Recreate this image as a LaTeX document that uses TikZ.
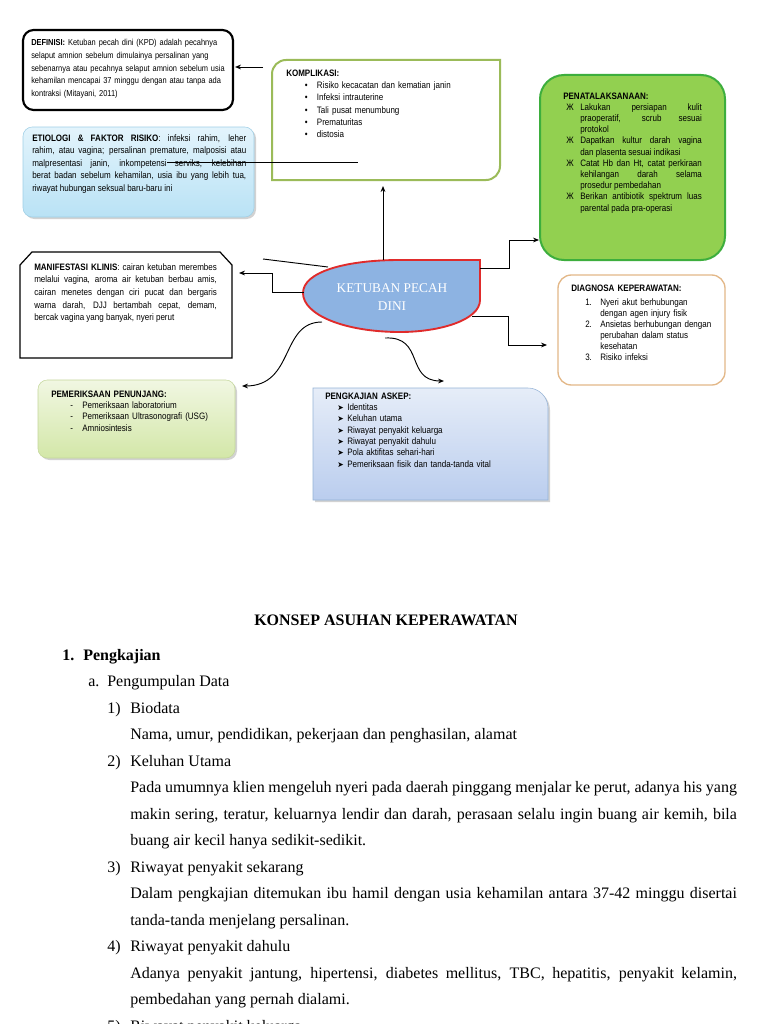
\documentclass[tikz,border=0pt]{standalone}
\usepackage{fontspec}
\setmainfont{Liberation Serif}
\newfontfamily\narrowsans[FakeStretch=0.86, WordSpace={1,1.6,2.6}]{Liberation Sans}
\newfontfamily\symfont{DejaVu Sans}
\usetikzlibrary{arrows.meta,shadows}

\definecolor{kpdblue}{HTML}{8DB3E2}
\definecolor{kpdred}{HTML}{E02B2B}
\definecolor{olivegreen}{HTML}{9BBB59}
\definecolor{leafgreen}{HTML}{92D050}
\definecolor{leafedge}{HTML}{3DAE3D}
\definecolor{tanedge}{HTML}{E3B888}
\definecolor{skytop}{HTML}{E3F4FC}
\definecolor{skybottom}{HTML}{B9E2F5}
\definecolor{skyedge}{HTML}{9FCFE6}
\definecolor{limetop}{HTML}{F1F7E2}
\definecolor{limebottom}{HTML}{D3E7A8}
\definecolor{limeedge}{HTML}{C4D79B}
\definecolor{lavtop}{HTML}{E6EDF8}
\definecolor{lavbottom}{HTML}{BACDEE}
\definecolor{lavedge}{HTML}{95B3D7}

\hyphenpenalty=10000
\exhyphenpenalty=10000

% list entry: label at #1, text at #2 (both from the node's left side)
\newcommand{\listentry}[4]{{\par\leftskip=#2\relax\noindent\hskip\dimexpr#1-#2\relax\hbox to\dimexpr#2-#1\relax{#3\hss}#4\par}}
\newcommand{\arrowmark}{{\symfont\fontsize{5.8}{5}\selectfont ➤}}
% one justified line that never reflows
\newcommand{\fullline}[1]{\hbox to\hsize{#1}}

\begin{document}
\begin{tikzpicture}[x=0.75pt, y=-0.75pt,
  boxtext/.style={anchor=base west, inner sep=0pt, font=\narrowsans\fontsize{7}{9.4}\selectfont},
  bodytext/.style={anchor=base west, inner sep=0pt, font=\fontsize{12}{19.875}\selectfont},
  conn/.style={line width=0.7pt, -{Stealth[length=4.5pt,width=3.6pt]}},
  plainline/.style={line width=0.7pt}]

\path[use as bounding box, fill=white] (0,0) rectangle (768,1024);

% Box outlines
\draw[line width=1.6pt, rounded corners=8pt] (23,30) rectangle (233,110);
\path[draw=skyedge, top color=skytop, bottom color=skybottom, rounded corners=7pt,
  drop shadow={shadow xshift=1.5pt, shadow yshift=-1.5pt, opacity=0.35}] (23,127) rectangle (254,217);
\draw[olivegreen, line width=1.5pt, fill=white] (272,180) -- (272,74) .. controls (272,66.3) and (278.3,60) .. (286,60)
  -- (500,60) -- (500,166) .. controls (500,173.7) and (493.7,180) .. (486,180) -- cycle;
\draw[leafedge, fill=leafgreen, line width=1.5pt, rounded corners=18pt] (540,75) rectangle (725,260);
\draw[line width=0.9pt, fill=white] (20,358) -- (20,265) -- (32,252) -- (220,252) -- (232,265) -- (232,358) -- cycle;
\draw[tanedge, line width=1pt, fill=white, rounded corners=10pt] (558,275) rectangle (725,385);
\path[draw=limeedge, top color=limetop, bottom color=limebottom, rounded corners=7pt,
  drop shadow={shadow xshift=1.5pt, shadow yshift=-1.5pt, opacity=0.35}] (38,380) rectangle (235,458);
\path[draw=lavedge, top color=lavtop, bottom color=lavbottom,
  drop shadow={shadow xshift=1.5pt, shadow yshift=-1.5pt, opacity=0.35}] (313,500) -- (313,388) -- (528,388)
  .. controls (539,388) and (548,397) .. (548,408) -- (548,500) -- cycle;

% Central shape
\draw[kpdred, fill=kpdblue, line width=1.4pt] (480,260) -- (480,300) .. controls (480,320) and (440,332) .. (400,332)
  .. controls (345,332) and (303,315) .. (303,293) .. controls (303,272) and (345,260) .. (400,260) -- cycle;
\node[text=white, align=center, inner sep=0pt, font=\fontsize{10}{14}\selectfont] (kpd) at (392,297) {KETUBAN PECAH\\DINI};

% Box texts
\node[boxtext, text width=142.5pt, font=\narrowsans\fontsize{6.5}{9.4}\selectfont] (definisi) at (31,46) {%
  \fullline{\textbf{DEFINISI:} Ketuban pecah dini (KPD) adalah pecahnya}
  \fullline{selaput amnion sebelum dimulainya persalinan yang}
  \fullline{sebenarnya atau pecahnya selaput amnion sebelum usia}
  \fullline{kehamilan mencapai 37 minggu dengan atau tanpa ada}
  \noindent kontraksi (Mitayani, 2011)};
\node[boxtext, text width=160.5pt, align=justify] (etiologi) at (32,141) {\textbf{ETIOLOGI \& FAKTOR RISIKO}: infeksi rahim, leher\linebreak
  rahim, atau vagina; persalinan premature, malposisi atau\linebreak
  malpresentasi janin, inkompetensi serviks, kelebihan\linebreak
  berat badan sebelum kehamilan, usia ibu yang lebih tua,\linebreak
  riwayat hubungan seksual baru-baru ini};
\node[boxtext, text width=160pt, align=left, font=\narrowsans\fontsize{7}{9.3}\selectfont] (komplikasi) at (286,76) {\textbf{KOMPLIKASI:}
  \listentry{14pt}{23pt}{\textbullet}{Risiko kecacatan dan kematian janin}
  \listentry{14pt}{23pt}{\textbullet}{Infeksi intrauterine}
  \listentry{14pt}{23pt}{\textbullet}{Tali pusat menumbung}
  \listentry{14pt}{23pt}{\textbullet}{Prematuritas}
  \listentry{14pt}{23pt}{\textbullet}{distosia}};
\node[boxtext, text width=104pt, align=justify, font=\narrowsans\fontsize{7}{8.4}\selectfont] (penatalaksanaan) at (563,99) {\textbf{PENATALAKSANAAN:}
  \listentry{2.25pt}{12.75pt}{Ж}{Lakukan persiapan kulit\linebreak praoperatif, scrub sesuai\linebreak protokol}
  \listentry{2.25pt}{12.75pt}{Ж}{Dapatkan kultur darah vagina\linebreak dan plasenta sesuai indikasi}
  \listentry{2.25pt}{12.75pt}{Ж}{Catat Hb dan Ht, catat perkiraan\linebreak kehilangan darah selama\linebreak prosedur pembedahan}
  \listentry{2.25pt}{12.75pt}{Ж}{Berikan antibiotik spektrum luas\linebreak parental pada pra-operasi}};
\node[boxtext, text width=137pt, align=justify, font=\narrowsans\fontsize{7}{9.5}\selectfont] (manifestasi) at (34,270) {\textbf{MANIFESTASI KLINIS}: cairan ketuban merembes\linebreak
  melalui vagina, aroma air ketuban berbau amis,\linebreak
  cairan menetes dengan ciri pucat dan bergaris\linebreak
  warna darah, DJJ bertambah cepat, demam,\linebreak
  bercak vagina yang banyak, nyeri perut};
\node[boxtext, text width=115pt, align=left, font=\narrowsans\fontsize{7}{8.3}\selectfont] (diagnosa) at (571,291) {\textbf{DIAGNOSA KEPERAWATAN:}\par\vspace{2.5pt}
  \listentry{10.5pt}{21.75pt}{1.}{Nyeri akut berhubungan\\dengan agen injury fisik}
  \listentry{10.5pt}{21.75pt}{2.}{Ansietas berhubungan dengan\\perubahan dalam status\\kesehatan}
  \listentry{10.5pt}{21.75pt}{3.}{Risiko infeksi}};
\node[boxtext, text width=140pt, align=left, font=\narrowsans\fontsize{7}{8.6}\selectfont] (penunjang) at (51,397) {\textbf{PEMERIKSAAN PENUNJANG:}
  \listentry{14.25pt}{23.25pt}{-}{Pemeriksaan laboratorium}
  \listentry{14.25pt}{23.25pt}{-}{Pemeriksaan Ultrasonografi (USG)}
  \listentry{14.25pt}{23.25pt}{-}{Amniosintesis}};
\node[boxtext, text width=160pt, align=left, font=\narrowsans\fontsize{7}{8.5}\selectfont] (askep) at (325,399) {\textbf{PENGKAJIAN ASKEP:}
  \listentry{9pt}{16.5pt}{\arrowmark}{Identitas}
  \listentry{9pt}{16.5pt}{\arrowmark}{Keluhan utama}
  \listentry{9pt}{16.5pt}{\arrowmark}{Riwayat penyakit keluarga}
  \listentry{9pt}{16.5pt}{\arrowmark}{Riwayat penyakit dahulu}
  \listentry{9pt}{16.5pt}{\arrowmark}{Pola aktifitas sehari-hari}
  \listentry{9pt}{16.5pt}{\arrowmark}{Pemeriksaan fisik dan tanda-tanda vital}};

% Connector end points
\coordinate (kpd-top) at (383,260);
\coordinate (komp-in) at (383,186);
\coordinate (kpd-ne) at (480,268);
\coordinate (pena-in) at (539,240);
\coordinate (kpd-se) at (472,316);
\coordinate (diag-in) at (547,345);
\coordinate (kpd-w) at (304,292);
\coordinate (mani-in) at (239,273);
\coordinate (kpd-sw) at (322,322);
\coordinate (penun-in) at (242,386);
\coordinate (kpd-s) at (385,338);
\coordinate (askep-in) at (444,381);
\coordinate (def-from) at (263,67);
\coordinate (def-in) at (235,67);
\coordinate (stray-a) at (263,259);
\coordinate (stray-b) at (328,267);
\coordinate (stray-c) at (167,162);
\coordinate (stray-d) at (358,162);

% Connectors
\draw[conn] (kpd-top) -- (komp-in);
\draw[conn] (kpd-ne) -- ++(29,0) |- (pena-in);
\draw[conn] (kpd-se) -- ++(36,0) |- (diag-in);
\draw[conn] (kpd-w) -- ++(-32,0) |- (mani-in);
\draw[conn] (kpd-sw) .. controls (280,322) and (295,386) .. (penun-in);
\draw[conn] (kpd-s) .. controls (425,336) and (405,381) .. (askep-in);
\draw[conn] (def-from) -- (def-in);
\draw[plainline] (stray-a) -- (stray-b);
\draw[plainline] (stray-c) -- (stray-d);

% Text below the diagram
\node[bodytext, anchor=base, font=\bfseries\fontsize{12}{14}\selectfont] (konsep) at (386,625) {KONSEP ASUHAN KEPERAWATAN};
\node[bodytext] (num1) at (62,660) {\textbf{1.}};
\node[bodytext] (pengkajian) at (83,660) {\textbf{Pengkajian}};
\node[bodytext] (numa) at (88,686.5) {a.};
\node[bodytext] (pengumpulan) at (107,686.5) {Pengumpulan Data};
\node[bodytext] (num1b) at (107,713) {1)};
\node[bodytext] (biodata) at (130,713) {Biodata};
\node[bodytext] (biodata-isi) at (130,739.5) {Nama, umur, pendidikan, pekerjaan dan penghasilan, alamat};
\node[bodytext] (num2) at (107,766) {2)};
\node[bodytext] (keluhan) at (130,766) {Keluhan Utama};
\node[bodytext, text width=455pt, align=justify] (keluhan-isi) at (130,792.5) {Pada umumnya klien mengeluh nyeri pada daerah pinggang menjalar ke perut, adanya his yang\linebreak
  makin sering, teratur, keluarnya lendir dan darah, perasaan selalu ingin buang air kemih, bila\linebreak
  buang air kecil hanya sedikit-sedikit.};
\node[bodytext] (num3) at (107,872) {3)};
\node[bodytext] (sekarang) at (130,872) {Riwayat penyakit sekarang};
\node[bodytext, text width=455pt, align=justify] (sekarang-isi) at (130,898.5) {Dalam pengkajian ditemukan ibu hamil dengan usia kehamilan antara 37-42 minggu disertai\linebreak
  tanda-tanda menjelang persalinan.};
\node[bodytext] (num4) at (107,951.5) {4)};
\node[bodytext] (dahulu) at (130,951.5) {Riwayat penyakit dahulu};
\node[bodytext, text width=455pt, align=justify] (dahulu-isi) at (130,978) {Adanya penyakit jantung, hipertensi, diabetes mellitus, TBC, hepatitis, penyakit kelamin,\linebreak
  pembedahan yang pernah dialami.};
\node[bodytext] (num5) at (107,1031) {5)};
\node[bodytext] (keluarga) at (130,1031) {Riwayat penyakit keluarga};
\end{tikzpicture}
\end{document}
